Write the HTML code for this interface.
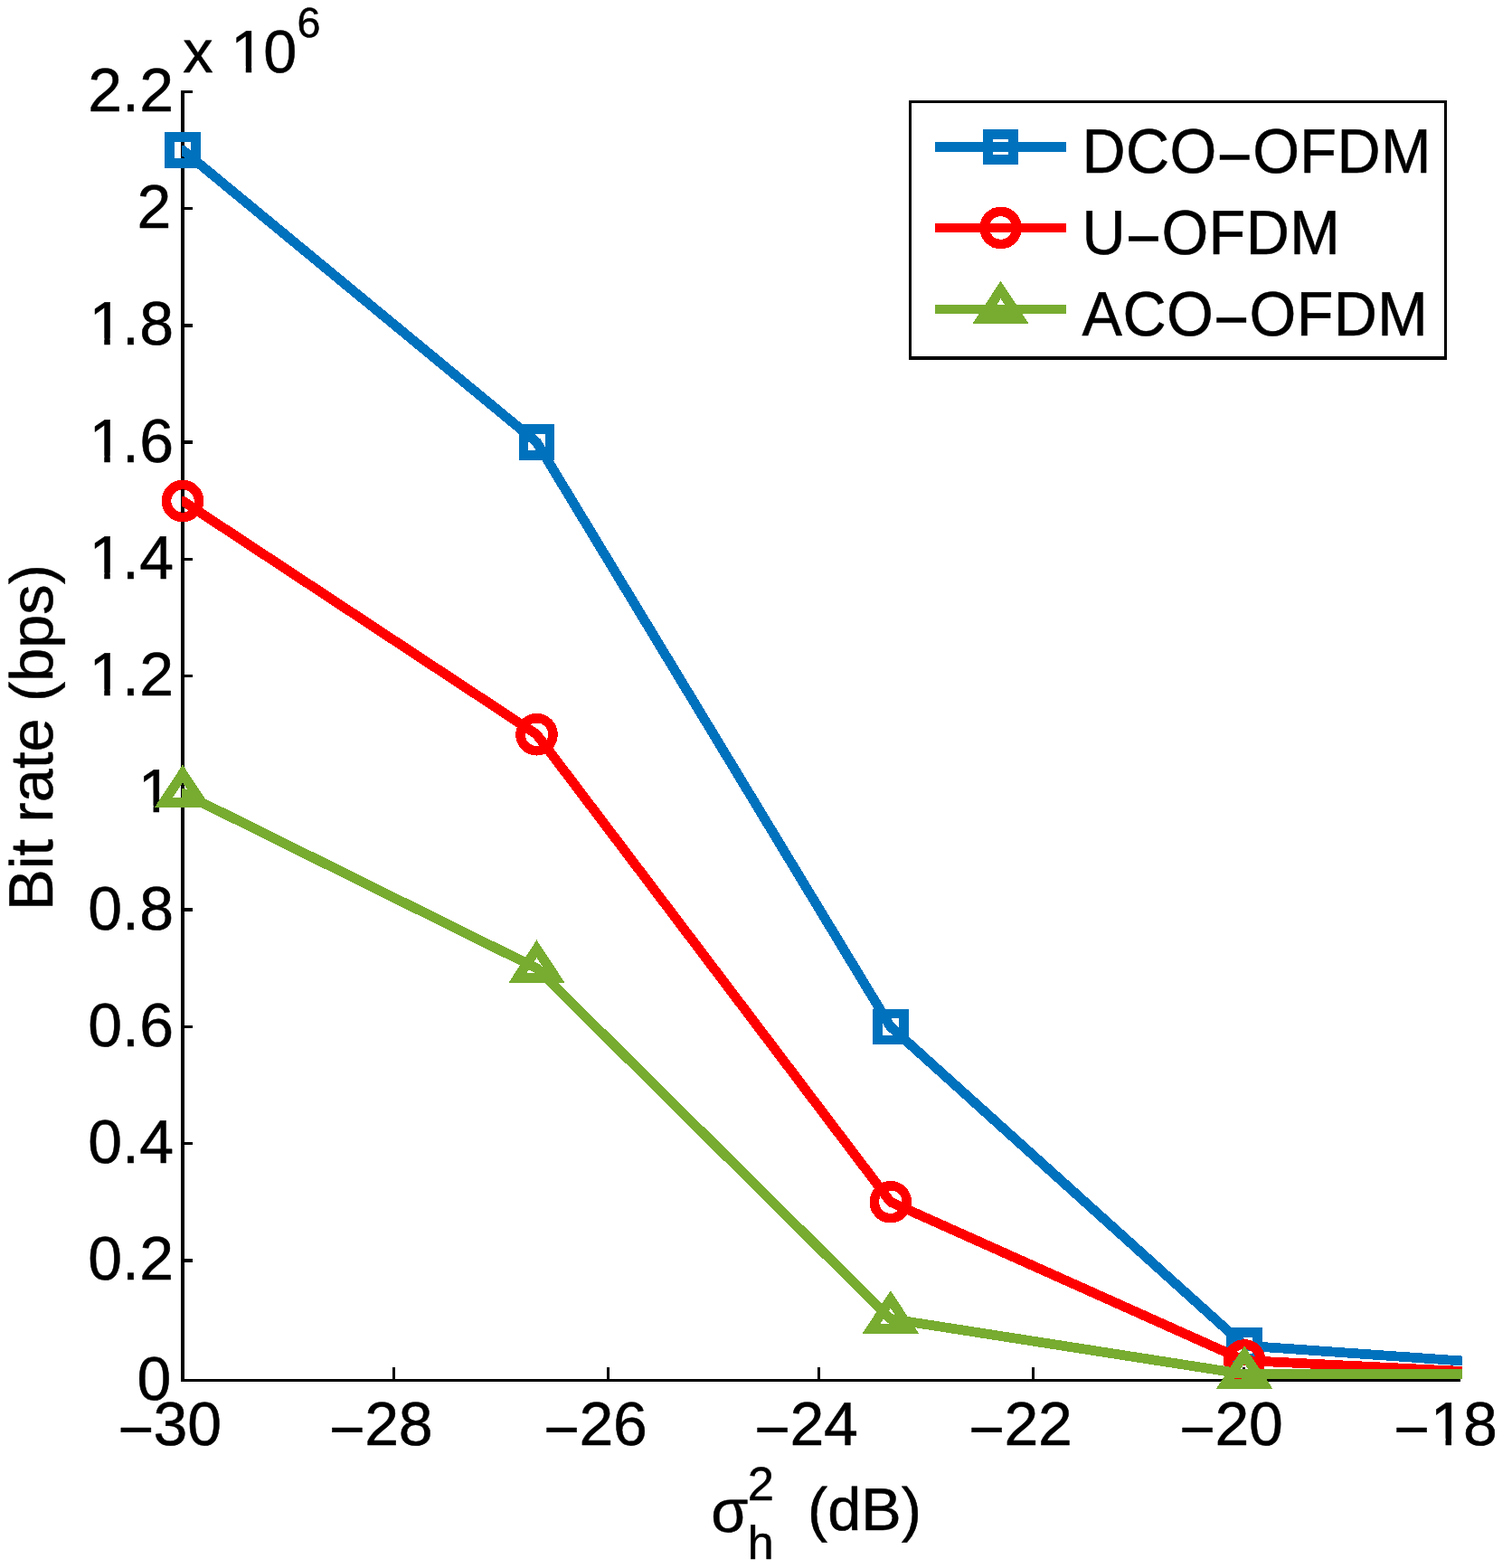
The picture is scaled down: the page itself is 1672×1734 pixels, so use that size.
<!DOCTYPE html>
<html lang="en"><head><meta charset="utf-8"><title>Bit rate vs channel variance</title>
<style>
html,body{margin:0;padding:0;background:#fff;}
body{width:1672px;height:1734px;overflow:hidden;}
svg{display:block;}
text{font-family:"Liberation Sans",sans-serif;font-size:66.67px;fill:#000;stroke:#000;stroke-width:0.50;stroke-linejoin:round;text-rendering:geometricPrecision;}
.ax{fill:#000;shape-rendering:crispEdges;}
.wm{fill:#fff;}
.ln{fill:none;stroke-width:10.80;stroke-linejoin:round;stroke-linecap:round;shape-rendering:crispEdges;}
.mk{fill:none;stroke-width:10.80;stroke-linejoin:miter;stroke-miterlimit:10;shape-rendering:crispEdges;}
</style></head><body>
<svg width="1672" height="1734" viewBox="0 0 1672 1734">
<rect x="0" y="0" width="1672" height="1734" fill="#fff"/>
<defs><clipPath id="clip"><rect x="201" y="95" width="1416" height="1436"/></clipPath></defs>
<g id="ticklabels">
<text><tspan x="97.23 134.99 154.33" y="122.9 122.9 122.9" style="font-size:68px">2.2</tspan></text>
<text><tspan x="151.53" y="251.9" style="font-size:68px">2</tspan></text>
<text><tspan x="98.41 134.99 154.33" y="380.9 380.9 380.9" style="font-size:68px">1.8</tspan></text>
<text><tspan x="98.41 134.99 154.33" y="510.9 510.9 510.9" style="font-size:68px">1.6</tspan></text>
<text><tspan x="98.41 134.99 154.34" y="640.1 640.1 640.1" style="font-size:68px">1.4</tspan></text>
<text><tspan x="98.41 134.99 154.33" y="769 769 769" style="font-size:68px">1.2</tspan></text>
<text><tspan x="152.71" y="897.9" style="font-size:68px">1</tspan></text>
<text><tspan x="97.23 134.99 154.33" y="1028.3 1028.3 1028.3" style="font-size:68px">0.8</tspan></text>
<text><tspan x="97.23 134.99 154.33" y="1157.3 1157.3 1157.3" style="font-size:68px">0.6</tspan></text>
<text><tspan x="97.23 134.99 154.34" y="1286.1 1286.1 1286.1" style="font-size:68px">0.4</tspan></text>
<text><tspan x="97.23 134.99 154.33" y="1415.2 1415.2 1415.2" style="font-size:68px">0.2</tspan></text>
<text><tspan x="151.53" y="1548" style="font-size:68px">0</tspan></text>
<text><tspan x="130.41 169.57 207.14" y="1604.2 1597.8 1597.8" style="font-size:68px">−30</tspan></text>
<text><tspan x="364.11 403.26 440.84" y="1604.2 1597.8 1597.8" style="font-size:68px">−28</tspan></text>
<text><tspan x="601.31 640.46 678.04" y="1604.2 1597.8 1597.8" style="font-size:68px">−26</tspan></text>
<text><tspan x="834.31 873.46 911.05" y="1604.2 1597.8 1597.8" style="font-size:68px">−24</tspan></text>
<text><tspan x="1071.31 1110.46 1148.04" y="1604.2 1597.8 1597.8" style="font-size:68px">−22</tspan></text>
<text><tspan x="1304.31 1343.46 1381.04" y="1604.2 1597.8 1597.8" style="font-size:68px">−20</tspan></text>
<text><tspan x="1541.31 1581.65 1618.04" y="1604.2 1597.8 1597.8" style="font-size:68px">−18</tspan></text>
</g>
<g id="exponent">
<text><tspan x="202.2 235.53 255.26 291.14" y="80.3 80.3 80.3 80.3" style="font-size:66.67px">x 10</tspan><tspan x="328.6" y="41.3" style="font-size:46.67px">6</tspan></text>
</g>
<g id="axislabels">
<text transform="translate(58.2,814.9) rotate(-90)"><tspan x="-192.29" y="0" style="font-size:69.2px">B</tspan><tspan x="-146.35 -131.53 -113.01 -94.49 -72.29 -35.21 -16.68 20.39 38.92 61.12 98.2 135.28 168.61" y="0">it rate (bps)</tspan></text>
<text><tspan x="786.3" y="1693.7" style="font-size:66.67px">σ</tspan><tspan x="826.8" y="1659" style="font-size:52.5px">2</tspan><tspan x="826.8" y="1723.6" style="font-size:52px">h</tspan><tspan x="874.48 893 915.2 952.28 996.75" y="1692.3 1692.3 1692.3 1692.3 1692.3" style="font-size:66.67px"> (dB)</tspan></text>
</g>
<g id="footmasks" class="wm">
<rect x="102.09" y="373.82" width="13.17" height="9.08"/>
<rect x="121.77" y="373.82" width="12.89" height="9.08"/>
<rect x="102.09" y="503.82" width="13.17" height="9.08"/>
<rect x="121.77" y="503.82" width="12.89" height="9.08"/>
<rect x="102.09" y="633.02" width="13.17" height="9.08"/>
<rect x="121.77" y="633.02" width="12.89" height="9.08"/>
<rect x="102.09" y="761.92" width="13.17" height="9.08"/>
<rect x="121.77" y="761.92" width="12.89" height="9.08"/>
<rect x="156.39" y="890.82" width="13.17" height="9.08"/>
<rect x="176.07" y="890.82" width="12.89" height="9.08"/>
<rect x="1585.33" y="1590.72" width="13.17" height="9.08"/>
<rect x="1605.01" y="1590.72" width="12.89" height="9.08"/>
<rect x="258.84" y="73.32" width="12.94" height="8.98"/>
<rect x="278.17" y="73.32" width="12.67" height="8.98"/>
</g>
<g id="axes" class="ax">
<rect x="200" y="100" width="4" height="1428"/>
<rect x="200" y="1525" width="1415" height="3"/>
<rect x="200" y="100" width="13" height="3"/>
<rect x="200" y="229" width="13" height="3"/>
<rect x="200" y="358" width="13" height="4"/>
<rect x="200" y="487" width="13" height="4"/>
<rect x="200" y="617" width="13" height="3"/>
<rect x="200" y="746" width="13" height="3"/>
<rect x="200" y="875" width="13" height="4"/>
<rect x="200" y="1004" width="13" height="4"/>
<rect x="200" y="1134" width="13" height="3"/>
<rect x="200" y="1263" width="13" height="3"/>
<rect x="200" y="1392" width="13" height="4"/>
<rect x="434" y="1512" width="3" height="14"/>
<rect x="671" y="1512" width="3" height="14"/>
<rect x="904" y="1512" width="3" height="14"/>
<rect x="1141" y="1512" width="3" height="14"/>
<rect x="1374" y="1512" width="3" height="14"/>
<rect x="1611" y="1512" width="3" height="14"/>
</g>
<g id="series">
<g clip-path="url(#clip)">
<polyline class="ln" stroke="#0072BD" points="202.0,166.0 593.5,489.1 984.8,1135.5 1376.1,1488.1 1767.6,1515.6"/>
</g>
<rect class="mk" stroke="#0072BD" x="187.45" y="151.45" width="29.1" height="29.1"/>
<rect class="mk" stroke="#0072BD" x="578.95" y="474.55" width="29.1" height="29.1"/>
<rect class="mk" stroke="#0072BD" x="970.25" y="1120.95" width="29.1" height="29.1"/>
<rect class="mk" stroke="#0072BD" x="1361.55" y="1473.55" width="29.1" height="29.1"/>
<g clip-path="url(#clip)">
<polyline class="ln" stroke="#FF0000" points="202.0,554.0 593.5,812.2 984.8,1329.2 1376.1,1504.5 1767.6,1523.9"/>
</g>
<circle class="mk" stroke="#FF0000" cx="202.00" cy="554.00" r="18" style="stroke-width:10.6"/>
<circle class="mk" stroke="#FF0000" cx="593.50" cy="812.20" r="18" style="stroke-width:10.6"/>
<circle class="mk" stroke="#FF0000" cx="984.80" cy="1329.20" r="18" style="stroke-width:10.6"/>
<circle class="mk" stroke="#FF0000" cx="1376.10" cy="1504.50" r="18" style="stroke-width:10.6"/>
<g clip-path="url(#clip)">
<polyline class="ln" stroke="#77AC30" points="202.0,877.0 593.5,1070.8 984.8,1458.5 1376.1,1519.6 1767.6,1519.5"/>
</g>
<path class="mk" stroke="#77AC30" d="M202.00 855.50 L180.90 887.60 L223.10 887.60 Z"/>
<path class="mk" stroke="#77AC30" d="M593.50 1049.30 L572.40 1081.40 L614.60 1081.40 Z"/>
<path class="mk" stroke="#77AC30" d="M984.80 1437.00 L963.70 1469.10 L1005.90 1469.10 Z"/>
<path class="mk" stroke="#77AC30" d="M1376.10 1498.10 L1355.00 1530.20 L1397.20 1530.20 Z"/>
</g>
<g id="legend">
<rect x="1005" y="111" width="595" height="287" fill="#fff"/>
<g class="ax"><rect x="1005" y="111" width="595" height="3"/><rect x="1005" y="394" width="595" height="4"/><rect x="1005" y="111" width="3" height="287"/><rect x="1597" y="111" width="3" height="287"/></g>
<line x1="1034" y1="162.4" x2="1179" y2="162.4" stroke="#0072BD" stroke-width="10.80" shape-rendering="crispEdges"/>
<rect class="mk" stroke="#0072BD" x="1092.35" y="148.35" width="28.3" height="28.3"/>
<g transform="translate(0,191.00) scale(1,1.040)">
<text><tspan x="1196.6 1245.11 1293.61 1345.83 1385.13 1437.34 1478.43 1526.94" y="0 0 0 6.2 0 0 0 0" style="font-size:66.67px">DCO−OFDM</tspan></text>
</g>
<line x1="1034" y1="252.0" x2="1179" y2="252.0" stroke="#FF0000" stroke-width="10.80" shape-rendering="crispEdges"/>
<circle class="mk" stroke="#FF0000" cx="1106.60" cy="252.00" r="18" style="stroke-width:10.6"/>
<g transform="translate(0,280.70) scale(1,1.040)">
<text><tspan x="1196.6 1245.11 1284.4 1336.62 1377.7 1426.21" y="0 6.2 0 0 0 0" style="font-size:66.67px">U−OFDM</tspan></text>
</g>
<line x1="1034" y1="342.0" x2="1179" y2="342.0" stroke="#77AC30" stroke-width="10.80" shape-rendering="crispEdges"/>
<path class="mk" stroke="#77AC30" d="M1106.60 320.50 L1085.50 352.60 L1127.70 352.60 Z"/>
<g transform="translate(0,370.60) scale(1,1.040)">
<text><tspan x="1196.6 1241.43 1289.94 1342.15 1381.45 1433.67 1474.75 1523.26" y="0 0 0 6.2 0 0 0 0" style="font-size:66.67px">ACO−OFDM</tspan></text>
</g>
</g>
</svg>
</body></html>
